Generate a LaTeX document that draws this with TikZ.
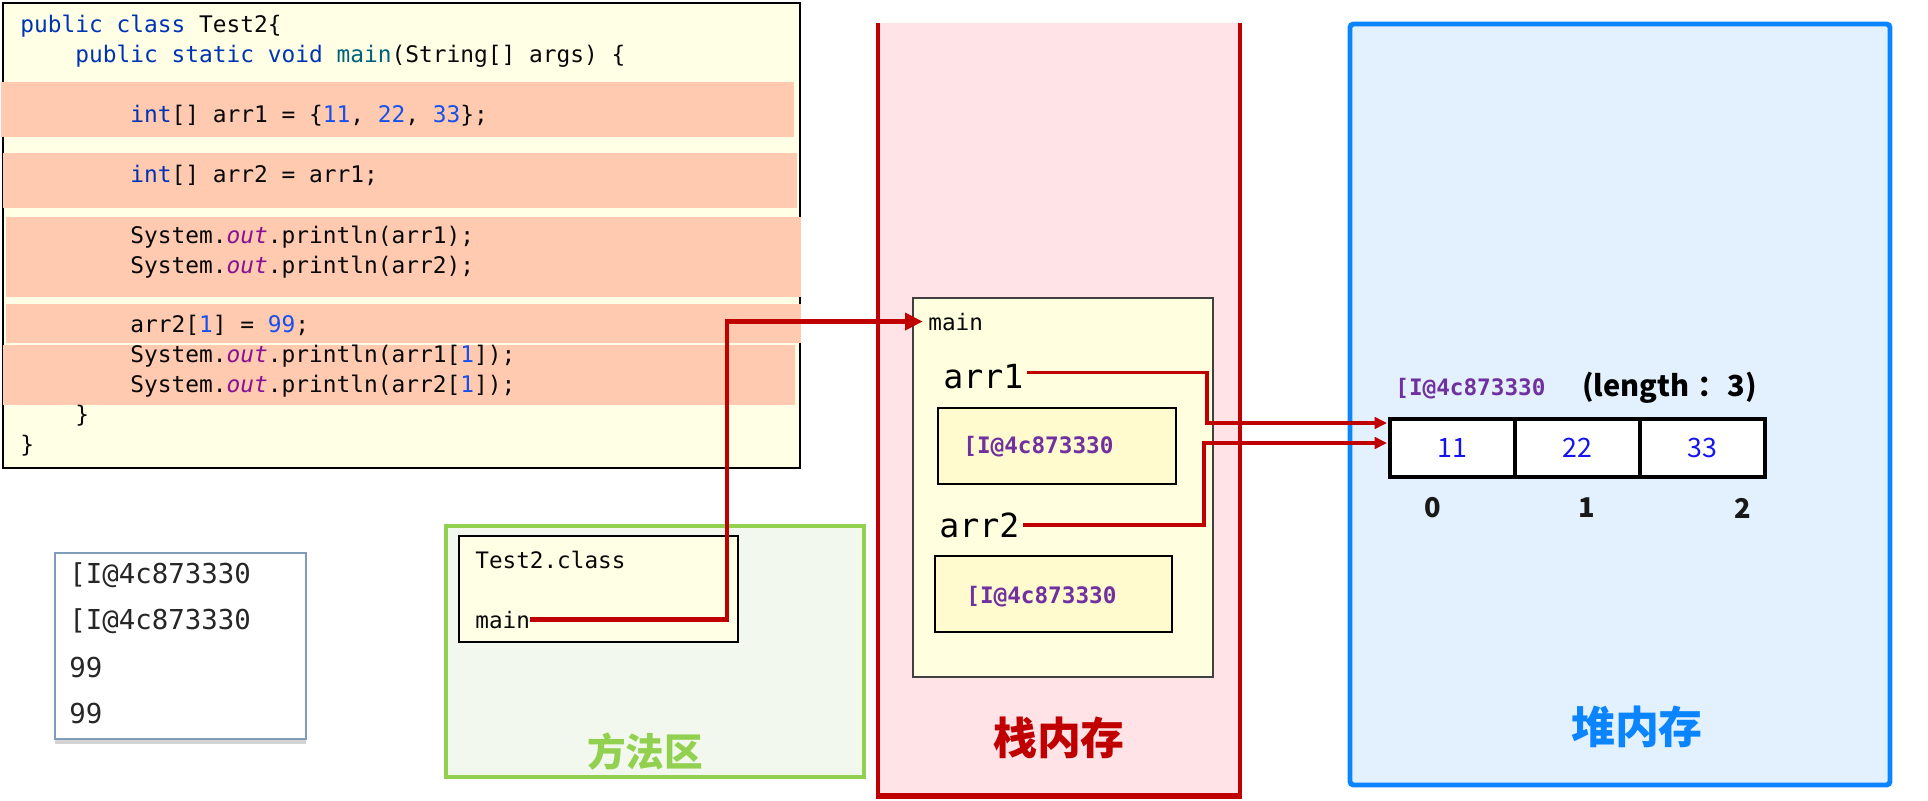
\documentclass[tikz,border=0pt]{standalone}
\usepackage{fontspec}
\usepackage{xcolor}
\usepackage{tikz}
\usetikzlibrary{positioning,arrows.meta,calc,shadows}

\newfontfamily\codefont{DejaVu Sans Mono}
\newfontfamily\cjk{Noto Sans CJK SC}

\definecolor{kwblue}{HTML}{0033B3}
\definecolor{numblue}{HTML}{1750EB}
\definecolor{fldpurple}{HTML}{871094}
\definecolor{mdteal}{HTML}{00627A}
\definecolor{codeink}{HTML}{080808}
\definecolor{codebg}{HTML}{FFFFE6}
\definecolor{hilite}{HTML}{FFCAB0}
\definecolor{stackred}{HTML}{C00000}
\definecolor{stackbg}{HTML}{FFE3E6}
\definecolor{heapblue}{HTML}{0A84FF}
\definecolor{heapbg}{HTML}{E3F1FE}
\definecolor{methgreen}{HTML}{92D050}
\definecolor{methbg}{HTML}{F3F8EE}
\definecolor{addrpurple}{HTML}{7030A0}
\definecolor{framebg}{HTML}{FFFFE0}
\definecolor{slotbg}{HTML}{FFFBCF}
\definecolor{consoleline}{HTML}{7F9DB9}
\definecolor{cellblue}{HTML}{1414F0}

\newcommand{\kw}[1]{\textcolor{kwblue}{#1}}
\newcommand{\nm}[1]{\textcolor{numblue}{#1}}
\newcommand{\fld}[1]{\textcolor{fldpurple}{\itshape #1}}

\begin{document}
\begin{tikzpicture}[x=0.02cm, y=-0.02cm,
  code/.style={anchor=base west, inner sep=0pt, text=codeink,
               font=\codefont\fontsize{13}{15}\selectfont},
  mono/.style={anchor=base west, inner sep=0pt, text=codeink,
               font=\codefont\fontsize{12.9}{15}\selectfont},
  addr/.style={anchor=base west, inner sep=0pt, text=addrpurple,
               font=\codefont\bfseries\fontsize{12.9}{15}\selectfont},
  var/.style={anchor=base west, inner sep=0pt, text=black,
              font=\codefont\fontsize{18.9}{22}\selectfont},
  outline/.style={anchor=base west, inner sep=0pt, text=black!85,
                  font=\codefont\fontsize{15.6}{18}\selectfont},
  cellbox/.style={draw=black, line width=2.3pt, fill=white, outer sep=0pt,
                  minimum width=2.5cm, minimum height=1.16cm, inner sep=0pt,
                  text=cellblue, font=\cjk\fontsize{15.2}{17}\selectfont},
  idx/.style={inner sep=0pt, text=black!90, font=\cjk\bfseries\fontsize{15.5}{18}\selectfont},
  area/.style={inner sep=0pt, font=\cjk\bfseries\fontsize{25}{28}\selectfont},
  ptr/.style={draw=stackred, line width=2pt, -{Triangle[length=7pt, width=6.5pt]}},
]
\useasboundingbox (0,0) rectangle (1928,801);

\draw[black, fill=codebg, line width=1.1pt] (3,3) rectangle (800,468);
\fill[hilite] (1,82) rectangle (794,137);
\fill[hilite] (3,153) rectangle (797,208);
\fill[hilite] (6,217) rectangle (801,297);
\fill[hilite] (6,304) rectangle (801,343);
\fill[hilite] (3,345) rectangle (795,405);

\fill[stackbg] (878,23) rectangle (1240,797);
\draw[stackred, line width=2.6pt] (878,23) -- (878,797) -- (1240,797) -- (1240,23);
\draw[stackred, line width=3.4pt] (878,796) -- (1240,796);
\draw[heapblue, fill=heapbg, line width=2.8pt, rounded corners=2pt] (1350,24) rectangle (1890,785);
\draw[methgreen, fill=methbg, line width=2.8pt] (446,526) rectangle (864,777);
\draw[black, fill=codebg, line width=1.2pt] (459,536) rectangle (738,642);
\draw[black!75, fill=framebg, line width=1.1pt] (913,298) rectangle (1213,677);
\draw[black, fill=slotbg, line width=1.2pt] (938,408) rectangle (1176,484);
\draw[black, fill=slotbg, line width=1.2pt] (935,556) rectangle (1172,632);
\draw[consoleline, fill=white, line width=0.9pt,
      drop shadow={opacity=0.35, shadow xshift=0pt, shadow yshift=-3pt}] (55,553) rectangle (306,739);

\node[code] (l1) at (20,32) {\kw{public class} Test2\{};
\node[code] (l2) at (75,62) {\kw{public static void} \textcolor{mdteal}{main}(String[] args) \{};
\node[code] (l3) at (130,122) {\kw{int}[] arr1 = \{\nm{11}, \nm{22}, \nm{33}\};};
\node[code] (l4) at (130,182) {\kw{int}[] arr2 = arr1;};
\node[code] (l5) at (130,243) {System.\fld{out}.println(arr1);};
\node[code] (l6) at (130,273) {System.\fld{out}.println(arr2);};
\node[code] (l7) at (130,332) {arr2[\nm{1}] = \nm{99};};
\node[code] (l8) at (130,362) {System.\fld{out}.println(arr1[\nm{1}]);};
\node[code] (l9) at (130,392) {System.\fld{out}.println(arr2[\nm{1}]);};
\node[code] (l10) at (75,422) {\}};
\node[code] (l11) at (20,452) {\}};

\node[outline] (o1) at (69,583) {[I@4c873330};
\node[outline] (o2) at (69,629) {[I@4c873330};
\node[outline] (o3) at (69,677) {99};
\node[outline] (o4) at (69,723) {99};

\node[mono] (cls) at (475,568) {Test2.class};
\node[mono] (mc) at (475,628) {main};
\node[area, text=methgreen, font=\cjk\bfseries\fontsize{22}{26}\selectfont] (ma) at (645,752) {方法区};

\node[mono] (mf) at (928,330) {main};
\node[var] (a1) at (943,388) {arr1};
\node[addr] (s1) at (963,453) {[I@4c873330};
\node[var] (a2) at (939,537) {arr2};
\node[addr] (s2) at (966,603) {[I@4c873330};
\node[area, text=stackred] (sk) at (1059,738) {栈内存};

\node[addr] (h0) at (1395,395) {[I@4c873330};
\node[anchor=base west, inner sep=0pt, font=\cjk\bfseries\fontsize{16.5}{20}\selectfont] (len) at (1582,396) {(length\kern0.25em：\kern0.05em 3)};
\node[cellbox] (c0) at (1452.5,448) {11};
\node[cellbox, right=0pt of c0] (c1) {22};
\node[cellbox, right=0pt of c1] (c2) {33};
\node[idx] (i0) at (1433,508) {0};
\node[idx] (i1) at (1587,508) {1};
\node[idx] (i2) at (1743,508) {2};
\node[area, text=heapblue] (hp) at (1637,727) {堆内存};

\draw[ptr, line width=2.4pt, -{Triangle[length=10pt, width=9.5pt]}] (mc.east) -| ($(mf.west)+(-201,0)$) -- ([xshift=-3pt]mf.west);
\draw[ptr] ([shift={(2pt,2pt)}]a1.east) -| ($(c0.north west)+(-183,4)$) -- ($(c0.north west)+(-3,4)$);
\draw[ptr] ([xshift=2pt]a2.east) -| ($(c0.north west)+(-186,24)$) -- ($(c0.north west)+(-3,24)$);
\end{tikzpicture}
\end{document}
